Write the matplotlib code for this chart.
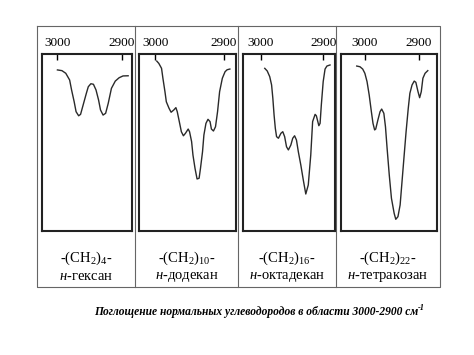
import matplotlib
matplotlib.use("Agg")
import matplotlib.pyplot as plt

plt.rcParams['font.family'] = ['Liberation Serif', 'DejaVu Serif']
plt.rcParams['mathtext.fontset'] = 'custom'
plt.rcParams['mathtext.rm'] = 'Liberation Serif'
plt.rcParams['mathtext.it'] = 'Liberation Serif:italic'

# ------ data (wavenumber cm-1, relative transmission %) ------ #
wn_c4 = [3000, 2993, 2987, 2981, 2978, 2974, 2971, 2967, 2964, 2960, 2955, 2952,
         2948, 2944, 2940, 2936, 2933, 2929, 2925, 2921, 2916, 2910, 2904, 2898, 2890]
tr_c4 = [91.0, 90.6, 89.1, 85.3, 79.7, 73.1, 67.4, 65.1, 65.9, 71.2, 77.8, 81.5,
         83.2, 82.9, 79.7, 74.0, 68.4, 65.5, 66.5, 72.1, 80.6, 84.7, 86.6, 87.6, 87.7]

wn_c10 = [2998, 2995, 2991, 2989, 2986, 2984, 2980, 2977, 2973, 2970, 2968, 2965,
          2962, 2959, 2956, 2952, 2950, 2947, 2945, 2942, 2939, 2936, 2934, 2931,
          2929, 2926, 2923, 2920, 2918, 2915, 2912, 2909, 2906, 2902, 2898, 2895, 2891]
tr_c10 = [96.0, 94.7, 91.9, 86.3, 78.7, 73.0, 69.3, 67.1, 68.4, 69.7, 67.4, 61.8,
          56.1, 53.8, 55.2, 57.6, 56.1, 50.5, 42.9, 35.4, 29.4, 29.8, 35.4, 44.8,
          54.2, 60.8, 63.1, 61.8, 57.6, 56.5, 58.9, 67.4, 78.7, 86.3, 90.0, 91.1, 91.5]

wn_c16 = [2994, 2990, 2986, 2983, 2981, 2979, 2977, 2975, 2972, 2968, 2965, 2962,
          2959, 2956, 2952, 2949, 2946, 2943, 2940, 2936, 2932, 2928, 2924, 2920,
          2917, 2913, 2911, 2907, 2905, 2903, 2900, 2897, 2894, 2889]
tr_c16 = [91.9, 90.4, 87.2, 82.5, 75.0, 65.5, 58.0, 53.3, 52.4, 55.2, 56.1, 53.3,
          47.6, 45.8, 48.6, 52.4, 53.8, 51.4, 44.8, 37.3, 28.8, 20.9, 26.0, 42.9,
          61.8, 65.9, 65.1, 59.5, 60.8, 71.2, 84.4, 91.5, 93.2, 93.8]

wn_c22 = [3015, 3009, 3004, 3000, 2996, 2992, 2988, 2985, 2982, 2980, 2976, 2972,
          2969, 2965, 2962, 2959, 2955, 2951, 2946, 2943, 2939, 2935, 2932, 2928,
          2924, 2920, 2917, 2913, 2909, 2906, 2902, 2899, 2896, 2893, 2889, 2884]
tr_c22 = [93.2, 92.8, 91.5, 89.1, 84.4, 76.8, 67.4, 60.8, 57.1, 57.6, 62.7, 67.4,
          68.9, 66.5, 58.9, 46.7, 31.6, 18.5, 10.0, 6.6, 8.1, 14.7, 26.0, 41.1,
          56.1, 69.3, 77.8, 82.5, 84.7, 84.0, 78.7, 75.3, 78.7, 86.3, 89.1, 90.6]

formulas = ['-(CH$_2$)$_4$-', '-(CH$_2$)$_{10}$-', '-(CH$_2$)$_{16}$-', '-(CH$_2$)$_{22}$-']
names = ['-гексан', '-додекан', '-октадекан', '-тетракозан']
tick_vals = [3000, 2900]
caption = 'Поглощение нормальных углеводородов в области 3000-2900 см'

W, H = 474, 355
fig = plt.figure(figsize=(W / 100, H / 100), dpi=100)
bg = fig.add_axes([0, 0, 1, 1])
bg.set_xlim(0, W)
bg.set_ylim(H, 0)
bg.axis('off')

# table grid
grid_kw = dict(color='#666666', lw=0.8)
bg.plot([37, 440, 440, 37, 37], [26, 26, 287, 287, 26], **grid_kw)
for xd in [135, 238, 336]:
    bg.plot([xd, xd], [26, 287], **grid_kw)

# panels: frame in pixels (left, right) and x-limits
frames = [(42, 132, 3024, 2884), (139, 236, 3024, 2882),
          (243, 335, 3029, 2881), (341, 437, 3044, 2867)]
series = [(wn_c4, tr_c4), (wn_c10, tr_c10), (wn_c16, tr_c16), (wn_c22, tr_c22)]
top, bot = 54, 231
for (l, r, x0, x1), (wn, tr) in zip(frames, series):
    ax = fig.add_axes([l / W, 1 - bot / H, (r - l) / W, (bot - top) / H])
    ax.plot(wn, tr, color='#2a2a2a', lw=1.0)
    ax.set_xlim(x0, x1)
    ax.set_ylim(0, 100)
    ax.set_xticks(tick_vals)
    ax.set_yticks([])
    ax.xaxis.tick_top()
    ax.tick_params(axis='x', direction='in', length=4, width=1, pad=3.5, labelsize=9.5)
    for s in ax.spines.values():
        s.set_linewidth(1.5)
        s.set_color('#222222')
    ax.patch.set_alpha(0)

centers = [86, 187, 287, 388]
for cx, f, n in zip(centers, formulas, names):
    bg.text(cx, 258, f, ha='center', va='center', fontsize=10.5)
    bg.text(cx, 277, '$\\mathit{н}$' + n, ha='center', va='center', fontsize=10.5)

cap = bg.text(256, 312, caption, ha='center', va='center', fontsize=8.3,
              fontweight='bold', fontstyle='italic')
bg.annotate('-1', xy=(1, 0.85), xycoords=cap, fontsize=6, fontweight='bold',
            fontstyle='italic', ha='left', va='center')

fig.savefig('out.png', dpi=100)
